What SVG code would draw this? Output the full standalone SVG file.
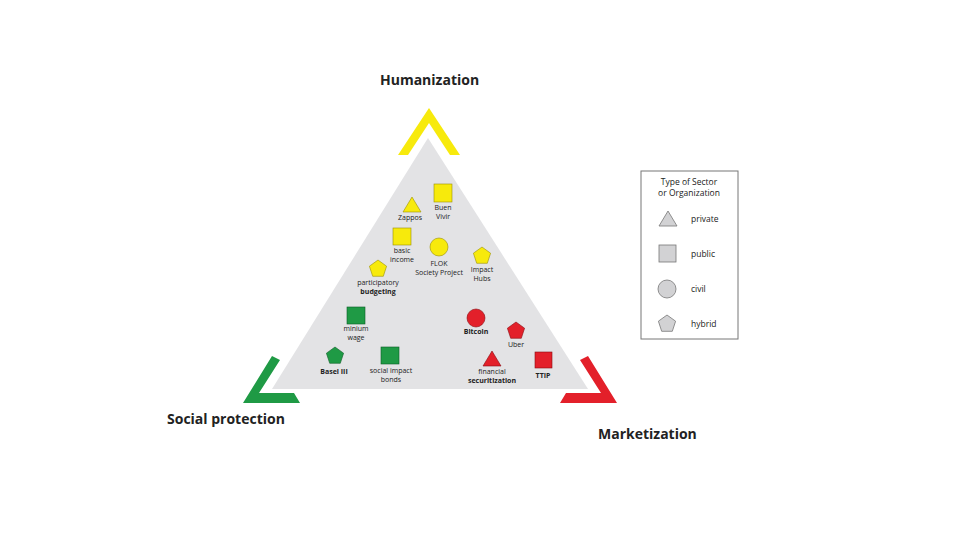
<svg xmlns="http://www.w3.org/2000/svg" width="960" height="540" viewBox="0 0 960 540">
<style>
text{font-family:"Open Sans","Liberation Sans",sans-serif;fill:#222;text-anchor:middle}
.s{font-size:7px}
.b{font-weight:bold}
.big{font-size:14px;font-weight:bold;text-anchor:start}
.y{fill:#f7ea0c;stroke:#9a9000;stroke-width:0.6}
.g{fill:#1f9a45;stroke:#0d5e25;stroke-width:0.6}
.r{fill:#e3202a;stroke:#8a0c10;stroke-width:0.6}
.l{fill:#d2d2d4;stroke:#777;stroke-width:0.8}
.lt{font-size:8.5px;text-anchor:start}
</style>
<defs>
<polygon id="pent" points="0,-9 8.6,-2.8 5.3,7.3 -5.3,7.3 -8.6,-2.8"/>
<polygon id="tri" points="0,-8 9,7 -9,7"/>
</defs>
<rect width="960" height="540" fill="#fff"/>
<g id="frame">
<polygon points="428,138 588,389 272,389" fill="#e3e3e5"/>
<polygon points="398,155 429,108 460,155 450,155 429,123 408,155" fill="#f7ea0c"/>
<polygon points="272,356 243,403 300,403 294,393 259,393 280,360" fill="#1f9a45"/>
<polygon points="588,356 617,403 560,403 566,393 601,393 580,360" fill="#e3202a"/>
</g>
<g id="axis-labels">
<text class="big" x="380" y="85">Humanization</text>
<text class="big" x="167" y="424">Social protection</text>
<text class="big" x="598" y="439">Marketization</text>
</g>
<g id="connectors"></g>
<g id="zappos"><use href="#tri" x="412" y="205" class="y"/><text class="s" x="410" y="220">Zappos</text></g>
<g id="buen-vivir"><rect x="434" y="184" width="18" height="18" class="y"/><text class="s" x="443" y="210">Buen</text><text class="s" x="443" y="219">Vivir</text></g>
<g id="basic-income"><rect x="393" y="228" width="18" height="17" class="y"/><text class="s" x="402" y="253">basic</text><text class="s" x="402" y="262">income</text></g>
<g id="flok"><circle cx="439" cy="247" r="9" class="y"/><text class="s" x="439" y="266">FLOK</text><text class="s" x="439" y="275">Society Project</text></g>
<g id="impact-hubs"><use href="#pent" x="482" y="256" class="y"/><text class="s" x="482" y="272">Impact</text><text class="s" x="482" y="281">Hubs</text></g>
<g id="participatory"><use href="#pent" x="378" y="269" class="y"/><text class="s" x="378" y="285">participatory</text><text class="s b" x="378" y="294">budgeting</text></g>
<g id="minium-wage"><rect x="347" y="307" width="18" height="17" class="g"/><text class="s" x="356" y="331">minium</text><text class="s" x="356" y="340">wage</text></g>
<g id="basel"><use href="#pent" x="335" y="356" class="g"/><text class="s b" x="334" y="374">Basel III</text></g>
<g id="sib"><rect x="381" y="347" width="18" height="17" class="g"/><text class="s" x="391" y="373">social impact</text><text class="s" x="391" y="382">bonds</text></g>
<g id="bitcoin"><circle cx="476" cy="318" r="9" class="r"/><text class="s b" x="476" y="334">Bitcoin</text></g>
<g id="uber"><use href="#pent" x="516" y="331" class="r"/><text class="s" x="516" y="347">Uber</text></g>
<g id="fin-sec"><use href="#tri" x="492" y="359" class="r"/><text class="s" x="492" y="374">financial</text><text class="s b" x="492" y="383">securitization</text></g>
<g id="ttip"><rect x="535" y="352" width="17" height="16" class="r"/><text class="s b" x="543" y="378">TTIP</text></g>
<g id="legend">
<rect x="641" y="171" width="97" height="168" fill="#fff" stroke="#777" stroke-width="1"/>
<text x="689" y="185" style="font-size:8.5px">Type of Sector</text>
<text x="689" y="196" style="font-size:8.5px">or Organization</text>
<use href="#tri" x="668" y="219" class="l"/><text class="lt" x="691" y="222">private</text>
<rect x="659" y="245" width="17" height="17" class="l"/><text class="lt" x="691" y="257">public</text>
<circle cx="667" cy="289" r="9" class="l"/><text class="lt" x="691" y="292">civil</text>
<use href="#pent" x="667" y="324" class="l"/><text class="lt" x="691" y="327">hybrid</text>
</g>
</svg>
